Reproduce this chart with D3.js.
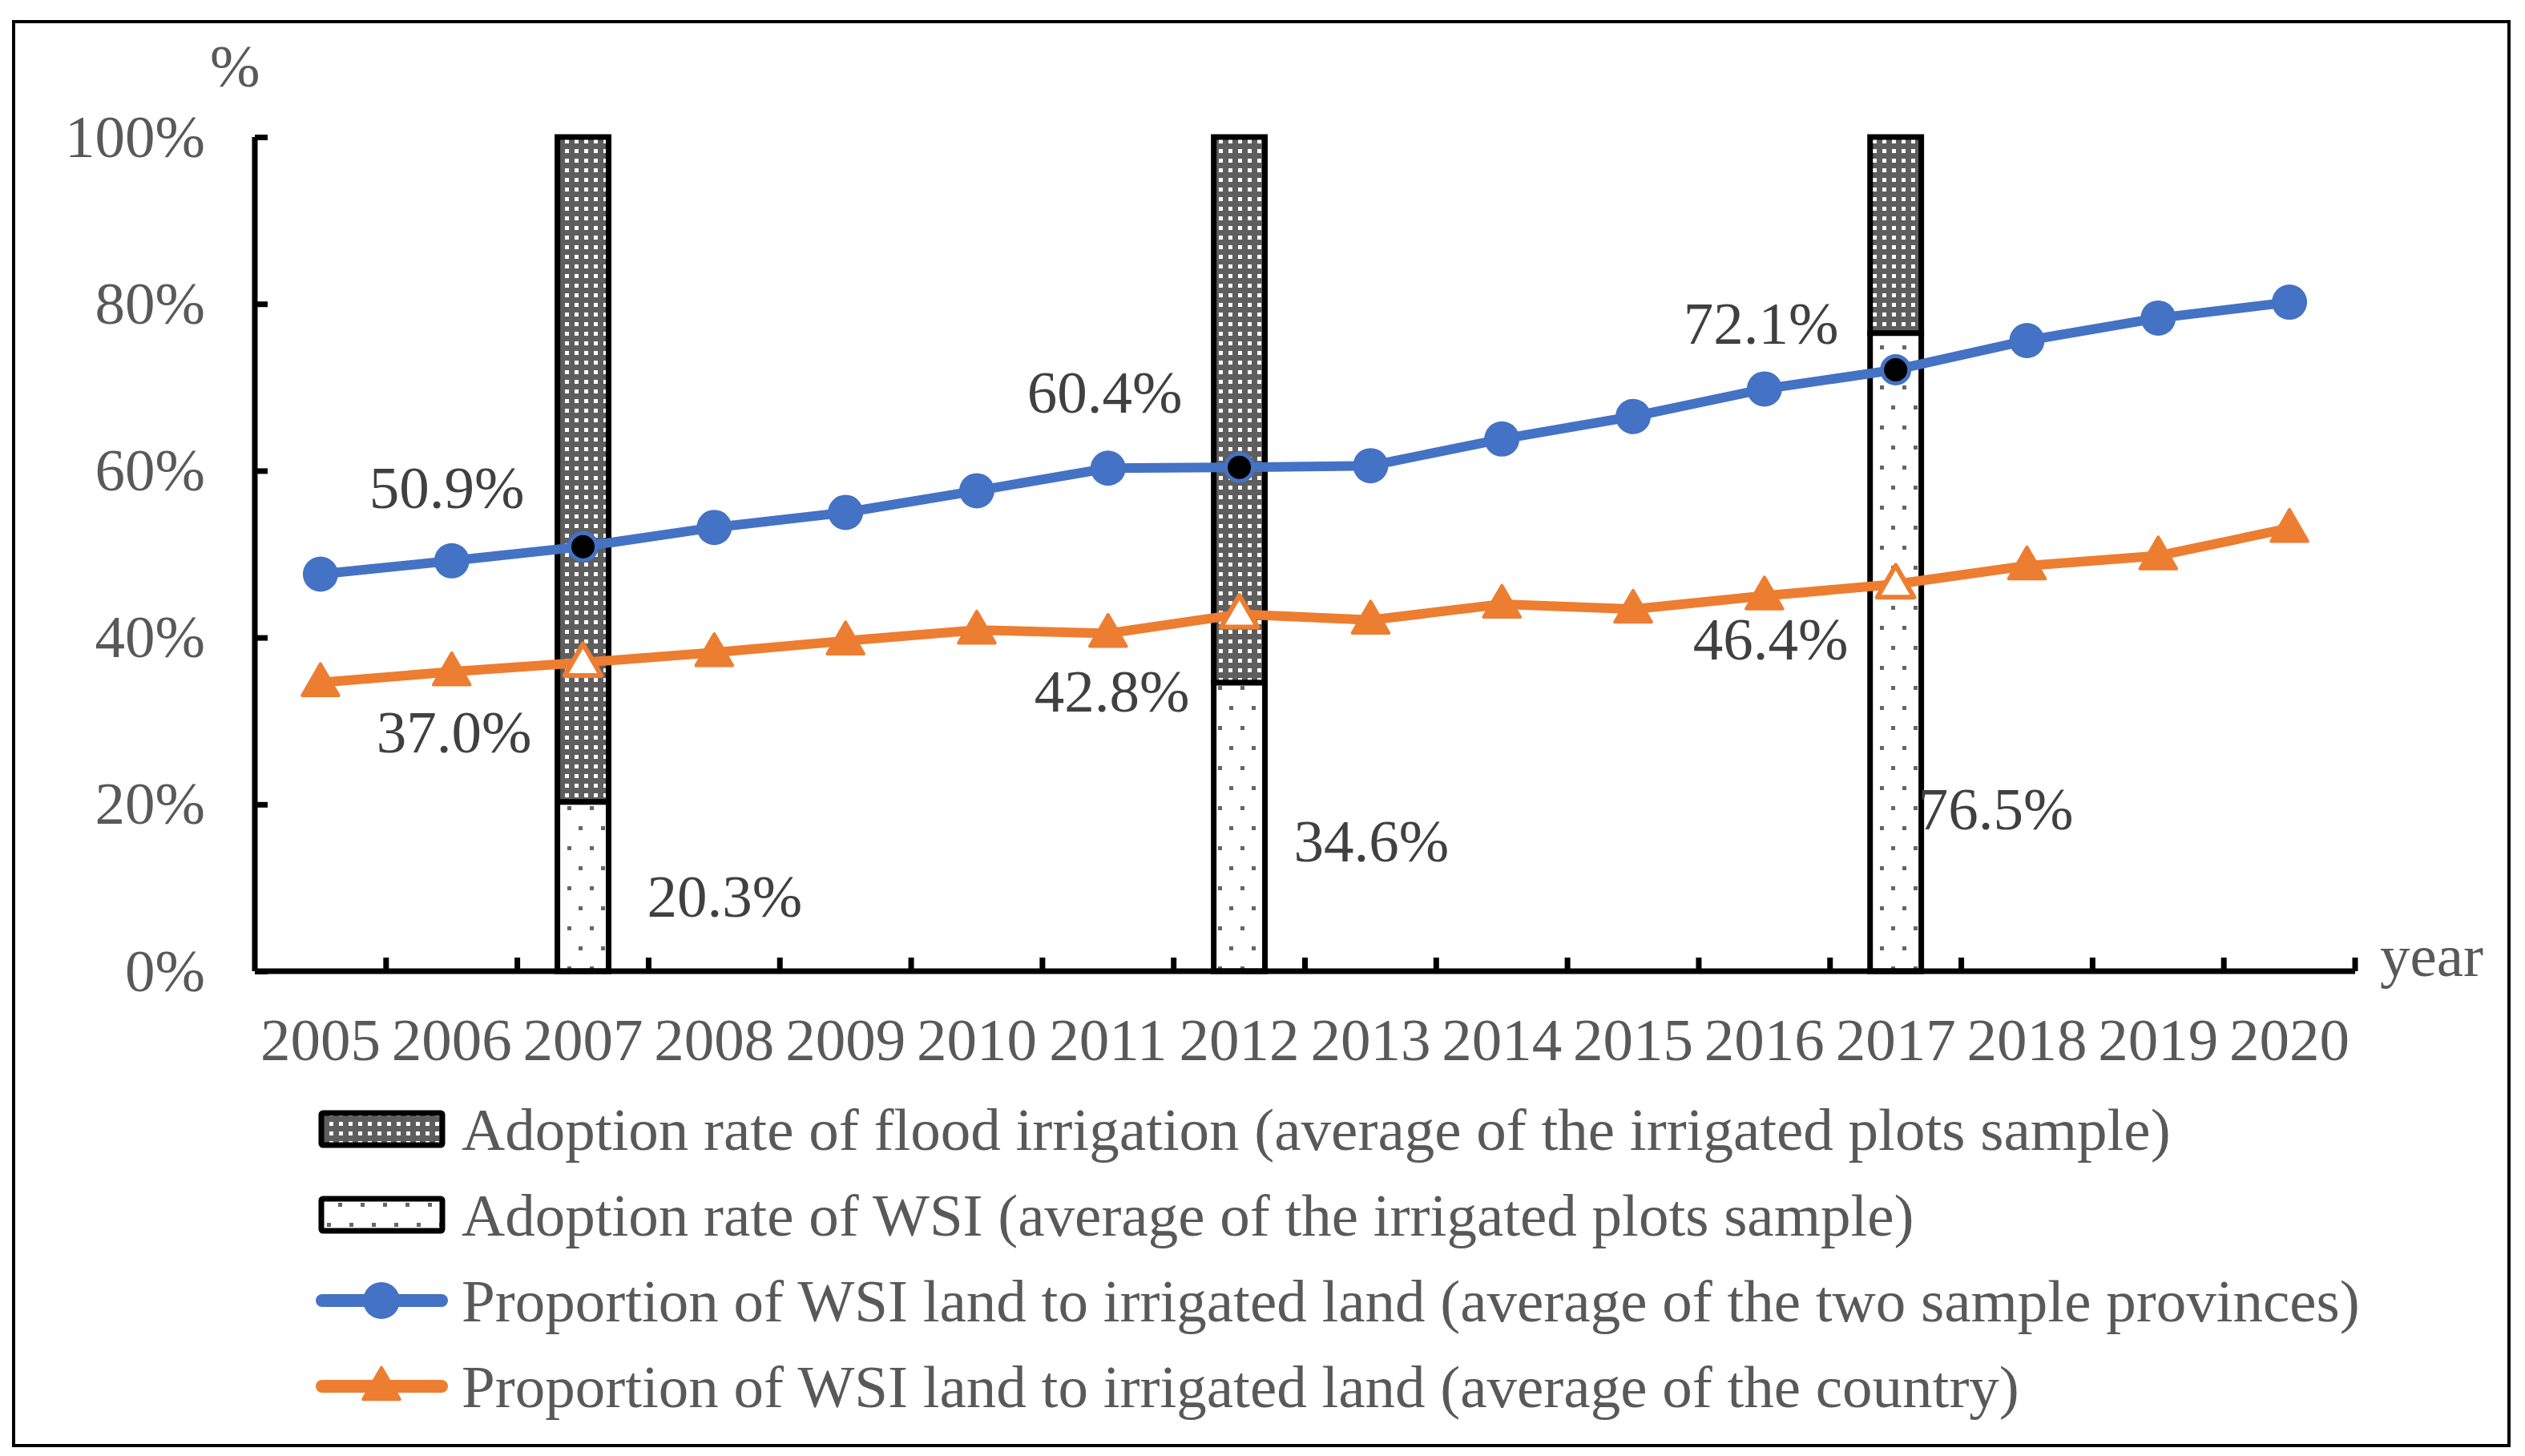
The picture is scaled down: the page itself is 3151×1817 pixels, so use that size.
<!DOCTYPE html>
<html>
<head>
<meta charset="utf-8">
<script src="https://cdn.jsdelivr.net/npm/d3@7"></script>
<style>
  body { margin: 0; background: #fff; }
  svg { display: block; font-family: "Liberation Serif", "Times New Roman", serif; }
  .axis-label { fill: #595959; font-size: 75px; font-family: "Liberation Serif", "Times New Roman", serif; }
  .data-label { fill: #404040; font-size: 75px; }
</style>
</head>
<body>
<svg width="3151" height="1817"></svg>
<script>
var years = ["2005","2006","2007","2008","2009","2010","2011","2012","2013","2014","2015","2016","2017","2018","2019","2020"];
var provinceShare = [47.6, 49.2, 50.9, 53.2, 55.0, 57.6, 60.3, 60.4, 60.6, 63.8, 66.5, 69.8, 72.1, 75.6, 78.3, 80.2];
var countryShare  = [34.6, 35.9, 37.0, 38.2, 39.6, 40.9, 40.5, 42.8, 42.1, 44.0, 43.4, 45.0, 46.4, 48.6, 49.8, 53.1];
var surveyYears = ["2007","2012","2017"];
var wsiRate   = [20.3, 34.6, 76.5];
var floodRate = [79.7, 65.4, 23.5];
var yTicks = [0, 20, 40, 60, 80, 100];
var legendLabels = [
  "Adoption rate of flood irrigation (average of the irrigated plots sample)",
  "Adoption rate of WSI (average of the irrigated plots sample)",
  "Proportion of WSI land to irrigated land (average of the two sample provinces)",
  "Proportion of WSI land to irrigated land (average of the country)"
];

// label placement (offsets from the marker, px)
var provLabelOff = [[-170, -48], [-168, -68], [-168, -32]];
var countryLabelOff = [[-161, 112], [-159, 122], [-156, 94]];
var wsiLabelOff = [[80, 1144], [68, 1075], [28, 1035]];

var svg = d3.select("svg"),
    margin = {top: 171, left: 318},
    width = 2939 - 318,
    height = 1212 - 171;

var blue = "#4472C4", orange = "#ED7D31";

// patterns
var defs = svg.append("defs");
var pf = defs.append("pattern").attr("id", "flood").attr("patternUnits", "userSpaceOnUse")
    .attr("width", 12).attr("height", 12);
pf.append("rect").attr("width", 12).attr("height", 12).attr("fill", "#5e5e5e");
pf.append("rect").attr("x", 3).attr("y", 3).attr("width", 5).attr("height", 5).attr("fill", "#fff");
var pw = defs.append("pattern").attr("id", "wsi").attr("patternUnits", "userSpaceOnUse")
    .attr("width", 28).attr("height", 50);
pw.append("rect").attr("width", 28).attr("height", 50).attr("fill", "#fff");
pw.append("rect").attr("x", 12).attr("y", 10).attr("width", 5).attr("height", 5).attr("fill", "#666");
pw.append("rect").attr("x", -2).attr("y", 35).attr("width", 5).attr("height", 5).attr("fill", "#666");
pw.append("rect").attr("x", 26).attr("y", 35).attr("width", 5).attr("height", 5).attr("fill", "#666");

// outer frame
svg.append("rect")
    .attr("x", 17).attr("y", 27).attr("width", 3114).attr("height", 1777)
    .attr("fill", "none").attr("stroke", "#000").attr("stroke-width", 4);

var x = d3.scaleBand().domain(years).range([0, width]).padding(0),
    y = d3.scaleLinear().domain([0, 100]).range([height, 0]);

var g = svg.append("g")
    .attr("transform", "translate(" + margin.left + "," + margin.top + ")");

// bars (stacked)
var barW = x.bandwidth() * 0.39;
surveyYears.forEach(function(yr, i) {
  var bx = x(yr) + x.bandwidth() / 2 - barW / 2;
  g.append("rect")
      .attr("x", bx).attr("y", y(wsiRate[i]))
      .attr("width", barW).attr("height", height - y(wsiRate[i]))
      .attr("fill", "url(#wsi)").attr("stroke", "#000").attr("stroke-width", 7);
  g.append("rect")
      .attr("x", bx).attr("y", y(wsiRate[i] + floodRate[i]))
      .attr("width", barW).attr("height", y(wsiRate[i]) - y(wsiRate[i] + floodRate[i]))
      .attr("fill", "url(#flood)").attr("stroke", "#000").attr("stroke-width", 7);
});

// axes
var yAxis = g.append("g").attr("class", "axis axis--y")
    .call(d3.axisLeft(y).tickValues(yTicks).tickSize(-16).tickFormat(function(d){ return d + "%"; }));
var xAxis = g.append("g").attr("class", "axis axis--x")
    .attr("transform", "translate(0," + height + ")")
    .call(d3.axisBottom(x).tickSize(0));

[yAxis, xAxis].forEach(function(a) {
  a.attr("font-family", null).attr("font-size", null);
  a.select(".domain").attr("stroke", "#000").attr("stroke-width", 7);
  a.selectAll(".tick line").attr("stroke", "#000").attr("stroke-width", 7);
  a.selectAll("text").attr("class", "axis-label").attr("fill", null);
});
yAxis.select(".domain").attr("d", "M0," + height + "V0");
yAxis.selectAll(".tick text").attr("x", -62).attr("dy", "0.32em");
xAxis.select(".domain").attr("d", "M0,0H" + width);
xAxis.selectAll(".tick text").attr("y", 58).attr("dy", "0.71em");

// category boundary ticks on the x axis
g.selectAll(".xb").data(d3.range(1, years.length + 1)).enter().append("line")
    .attr("x1", function(i){ return i * x.step(); })
    .attr("x2", function(i){ return i * x.step(); })
    .attr("y1", height).attr("y2", height - 17)
    .attr("stroke", "#000").attr("stroke-width", 7);

// lines
var lineGen = d3.line()
    .x(function(d, i){ return x(years[i]) + x.bandwidth() / 2; })
    .y(function(d){ return y(d); });

g.append("path").datum(provinceShare)
    .attr("d", lineGen).attr("fill", "none").attr("stroke", blue).attr("stroke-width", 12);
g.append("path").datum(countryShare)
    .attr("d", lineGen).attr("fill", "none").attr("stroke", orange).attr("stroke-width", 12);

var tri = d3.symbol().type(d3.symbolTriangle).size(900);
function isSurvey(i) { return surveyYears.indexOf(years[i]) >= 0; }

g.selectAll(".pt").data(provinceShare).enter().append("circle")
    .attr("cx", function(d, i){ return x(years[i]) + x.bandwidth() / 2; })
    .attr("cy", function(d){ return y(d); })
    .attr("r", function(d, i){ return isSurvey(i) ? 17 : 22; })
    .attr("fill", function(d, i){ return isSurvey(i) ? "#000" : blue; })
    .attr("stroke", blue)
    .attr("stroke-width", function(d, i){ return isSurvey(i) ? 5 : 0; });

g.selectAll(".tr").data(countryShare).enter().append("path")
    .attr("d", tri)
    .attr("transform", function(d, i){ return "translate(" + (x(years[i]) + x.bandwidth() / 2) + "," + (y(d) + 3) + ")"; })
    .attr("fill", function(d, i){ return isSurvey(i) ? "#fff" : orange; })
    .attr("stroke", orange)
    .attr("stroke-linejoin", "round")
    .attr("stroke-width", function(d, i){ return isSurvey(i) ? 6 : 4; });

// data labels
surveyYears.forEach(function(yr, i) {
  var k = years.indexOf(yr);
  var cx = x(yr) + x.bandwidth() / 2;
  g.append("text").attr("class", "data-label").attr("text-anchor", "middle")
      .attr("x", cx + provLabelOff[i][0]).attr("y", y(provinceShare[k]) + provLabelOff[i][1])
      .text(provinceShare[k].toFixed(1) + "%");
  g.append("text").attr("class", "data-label").attr("text-anchor", "middle")
      .attr("x", cx + countryLabelOff[i][0]).attr("y", y(countryShare[k]) + countryLabelOff[i][1])
      .text(countryShare[k].toFixed(1) + "%");
  svg.append("text").attr("class", "data-label")
      .attr("x", margin.left + cx + wsiLabelOff[i][0]).attr("y", wsiLabelOff[i][1])
      .text(wsiRate[i].toFixed(1) + "%");
});

// unit labels
svg.append("text").attr("class", "axis-label").attr("x", 262).attr("y", 108).text("%");
svg.append("text").attr("class", "axis-label").attr("x", 2970).attr("y", 1218).text("year");

// legend
var lg = svg.append("g").attr("transform", "translate(396,1409)");
var row = 107;
legendLabels.forEach(function(t, i) {
  var r = lg.append("g").attr("transform", "translate(0," + i * row + ")");
  if (i < 2) {
    r.append("rect").attr("x", 5).attr("y", -20).attr("width", 151).attr("height", 40)
        .attr("fill", i == 0 ? "url(#flood)" : "url(#wsi)")
        .attr("stroke", "#000").attr("stroke-width", 7).attr("rx", 2);
  } else {
    var c = i == 2 ? blue : orange;
    r.append("line").attr("x1", 6).attr("x2", 155).attr("y1", 0).attr("y2", 0)
        .attr("stroke", c).attr("stroke-width", 16).attr("stroke-linecap", "round");
    if (i == 2) {
      r.append("circle").attr("cx", 80).attr("cy", 0).attr("r", 23).attr("fill", c);
    } else {
      r.append("path").attr("d", tri).attr("transform", "translate(80,3)").attr("fill", c)
          .attr("stroke", c).attr("stroke-width", 4).attr("stroke-linejoin", "round");
    }
  }
  r.append("text").attr("class", "axis-label").attr("x", 180).attr("y", 0).attr("dy", "0.35em").text(t);
});
</script>
</body>
</html>
